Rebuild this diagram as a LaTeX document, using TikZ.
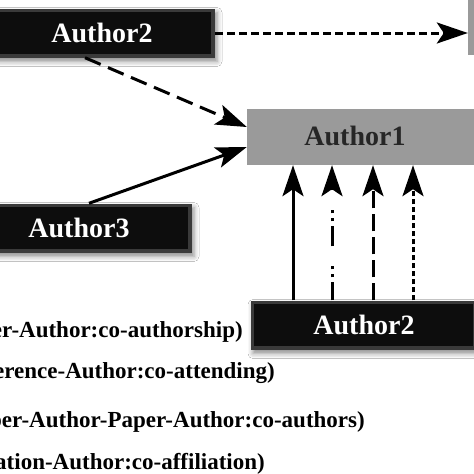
\documentclass[tikz,border=0pt]{standalone}
\usepackage{fontspec}
\setmainfont{Liberation Serif}
\usetikzlibrary{arrows.meta,shadows.blur,calc}
\definecolor{boxgray}{HTML}{9A9A9A}
\definecolor{rimgray}{HTML}{3A3A3A}
\begin{document}
\begin{tikzpicture}[x=1pt,y=-1pt,
  darkbox/.style={minimum width=226pt,minimum height=49pt,inner sep=0pt,
    fill=rimgray,text=white,font=\fontsize{28}{32}\selectfont\bfseries,
    blur shadow={shadow xshift=2pt,shadow yshift=-4pt,shadow blur radius=5pt,shadow opacity=45},
    path picture={\fill[black!95] ([xshift=3pt,yshift=-3pt]path picture bounding box.north west)
       rectangle ([xshift=-4pt,yshift=4pt]path picture bounding box.south east);}},
  graybox/.style={fill=boxgray,inner sep=0pt},
  lbl/.style={font=\fontsize{28}{32}\selectfont\bfseries,text=black!85},
  legend/.style={font=\fontsize{23}{27}\selectfont\bfseries,anchor=base east,inner sep=0pt},
  arr/.style={line width=3pt,-{Stealth[length=31pt,width=21pt,inset=7pt]}},
  dshort/.style={dash pattern=on 8pt off 4pt},
  dlong/.style={dash pattern=on 17pt off 8pt},
  ddot/.style={dash pattern=on 20pt off 5pt on 3pt off 5pt on 3pt off 20pt, dash phase=2pt},
  dmid/.style={dash pattern=on 17pt off 6pt},
  dfine/.style={dash pattern=on 5pt off 3pt}]
\useasboundingbox (0,0) rectangle (474,474);
\clip (0,0) rectangle (474,474);
\fill[white] (0,0) rectangle (474,474);
% boxes
\node[graybox,minimum width=30pt,minimum height=70pt] (a0) at (483,20) {};
\node[graybox,minimum width=240pt,minimum height=56pt] (a1) at (367,137) {};
\node[lbl] (a1lab) at (355,136) {Author1};
\node[darkbox] (a2t) at (102,33) {Author2};
\node[darkbox] (a3) at (79,228) {Author3};
\node[darkbox] (a2b) at (364,325) {Author2};
% connectors
\draw[arr,dshort] (a2t.east) -- (a2t.east -| a0.west);
\draw[arr,dlong] ($(a2t.south)+(-17,0)$) -- ($(a1.west)+(0,-10)$);
\draw[arr] ($(a3.north)+(10,0)$) -- ($(a1.west)+(0,10)$);
\coordinate (v1) at (293,0);
\coordinate (v2) at (332,0);
\coordinate (v3) at (373,0);
\coordinate (v4) at (413,0);
\draw[arr] (a2b.north -| v1) -- (a1.south -| v1);
\draw[arr,ddot] (a2b.north -| v2) -- (a1.south -| v2);
\draw[arr,dmid] (a2b.north -| v3) -- (a1.south -| v3);
\draw[arr,dfine] (a2b.north -| v4) -- (a1.south -| v4);
% legend
\node[legend] (l1) at (243,337) {(Author-Paper-Author:co-authorship)};
\node[legend] (l2) at (275,378) {(Author-Conference-Author:co-attending)};
\node[legend] (l3) at (365,427) {(Author-Paper-Author-Paper-Author:co-authors)};
\node[legend] (l4) at (265,469) {(Author-Affiliation-Author:co-affiliation)};
\end{tikzpicture}
\end{document}
